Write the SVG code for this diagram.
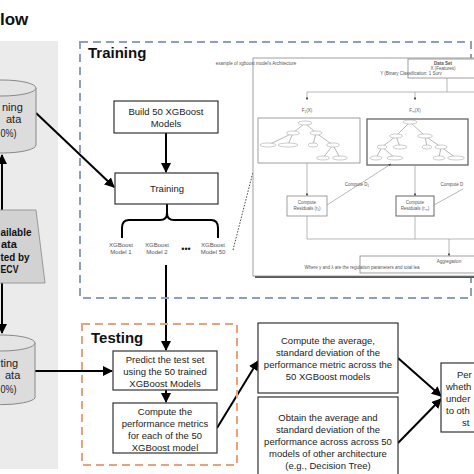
<svg xmlns="http://www.w3.org/2000/svg" width="474" height="474" viewBox="0 0 474 474">
<style>
.t{font-family:"Liberation Sans",Arial,sans-serif;fill:#222}
.b{font-size:9.5px;text-anchor:middle}
.h{font-weight:bold;font-size:15px;fill:#111}
.c{font-size:11px}
.cb{font-size:11px;font-weight:bold;fill:#111}
.box{fill:#fff;stroke:#333;stroke-width:1.2}
.ln{stroke:#000;stroke-width:2;fill:none}
.tiny{font-family:"Liberation Sans",Arial,sans-serif;font-size:4.5px;fill:#555;text-anchor:middle}
.ib{fill:#fff;stroke:#888;stroke-width:0.8}
.il{stroke:#999;stroke-width:0.7;fill:none}
.el{fill:#fff;stroke:#999;stroke-width:0.5}
.m{font-size:6px;text-anchor:middle;fill:#555}
</style>
<defs>
<marker id="ah" viewBox="0 0 10 10" refX="9" refY="5" markerWidth="5" markerHeight="5" orient="auto-start-reverse"><path d="M0,0L10,5L0,10z" fill="#000"/></marker>
<marker id="as" viewBox="0 0 10 10" refX="9" refY="5" markerWidth="4" markerHeight="4" orient="auto"><path d="M0,0L10,5L0,10z" fill="#555"/></marker>
</defs>
<rect width="474" height="474" fill="#fff"/>
<text class="t" x="0" y="25" style="font-weight:bold;font-size:17px;fill:#111">low</text>
<rect x="-5" y="41" width="63" height="428" fill="#ebebeb"/>

<g id="connectors">
<line class="ln" x1="2" y1="210" x2="2" y2="155" marker-end="url(#ah)"/>
<line class="ln" x1="2" y1="283" x2="2" y2="333" marker-end="url(#ah)"/>
<line class="ln" x1="36" y1="113" x2="114" y2="187" marker-end="url(#ah)"/>
<line class="ln" x1="166" y1="133" x2="166" y2="172" marker-end="url(#ah)"/>
<path class="ln" d="M167,204 V213 Q167,220 160,220 H129 Q122,220 122,228 V238 M167,213 Q167,220 174,220 H211 Q218,220 218,228 V238" stroke-width="2.5"/>
<line x1="233" y1="250" x2="253" y2="172" stroke="#444" stroke-width="1" stroke-dasharray="1.5,1.5"/>
<line class="ln" x1="166" y1="265" x2="166" y2="350" marker-end="url(#ah)"/>
<line class="ln" x1="35" y1="371" x2="112" y2="371" marker-end="url(#ah)"/>
<line class="ln" x1="166" y1="390" x2="166" y2="402" marker-end="url(#ah)"/>
<line class="ln" x1="217" y1="428" x2="258" y2="361" marker-end="url(#ah)"/>
<line class="ln" x1="398" y1="358" x2="441" y2="396" marker-end="url(#ah)"/>
<line class="ln" x1="398" y1="443" x2="441" y2="399" marker-end="url(#ah)"/>
</g>

<g id="training-data">
<path d="M-32,88 V145 A34,8 0 0 0 36,145 V88" fill="#dcdcdc" stroke="#888" stroke-width="1"/>
<ellipse cx="2" cy="88" rx="34" ry="8" fill="#e4e4e4" stroke="#888" stroke-width="1"/>
<text class="t c" x="2" y="111">ning</text>
<text class="t c" x="6" y="123">ata</text>
<text class="t c" x="0.5" y="137" textLength="16" lengthAdjust="spacingAndGlyphs">0%)</text>
</g>

<g id="available-data">
<polygon points="-5,210 36,210 45,283 -5,283" fill="#d2d2d2" stroke="#999" stroke-width="1"/>
<text class="t cb" x="0.5" y="236" textLength="31" lengthAdjust="spacingAndGlyphs">ailable</text>
<text class="t cb" x="1" y="248">ata</text>
<text class="t cb" x="0.5" y="261" textLength="29" lengthAdjust="spacingAndGlyphs">ted by</text>
<text class="t cb" x="0.5" y="273" textLength="18" lengthAdjust="spacingAndGlyphs">ECV</text>
</g>

<g id="testing-data">
<path d="M-32,343 V398 A34,8 0 0 0 35,398 V343" fill="#dcdcdc" stroke="#888" stroke-width="1"/>
<ellipse cx="1.5" cy="343" rx="33.5" ry="8" fill="#e4e4e4" stroke="#888" stroke-width="1"/>
<text class="t c" x="0.5" y="367">ting</text>
<text class="t c" x="5" y="379">ata</text>
<text class="t c" x="0.5" y="393" textLength="16" lengthAdjust="spacingAndGlyphs">0%)</text>
</g>

<g id="training-group">
<rect x="80" y="42" width="391" height="256" fill="none" stroke="#8e9cc6" stroke-width="2" stroke-dasharray="8,5"/>
<text class="t h" x="88" y="58">Training</text>
</g>

<g id="build-models">
<rect class="box" x="114" y="101" width="104" height="32"/>
<text class="t b" x="166" y="115">Build 50 XGBoost</text>
<text class="t b" x="166" y="127">Models</text>
</g>

<g id="training">
<rect class="box" x="115" y="173" width="103" height="31"/>
<text class="t b" x="167" y="192" font-size="10.5">Training</text>
</g>

<g id="models">
<text class="t m" x="121" y="247">XGBoost</text>
<text class="t m" x="121" y="254">Model 1</text>
<text class="t m" x="157" y="247">XGBoost</text>
<text class="t m" x="157" y="254">Model 2</text>
<text class="t" x="186" y="252" font-size="9" text-anchor="middle" fill="#444">•••</text>
<text class="t m" x="213" y="247">XGBoost</text>
<text class="t m" x="213" y="254">Model 50</text>
</g>

<g id="architecture">
<rect x="255" y="60" width="222" height="218" fill="#555"/>
<rect x="253" y="58" width="224" height="218" fill="#fff" stroke="#888" stroke-width="0.8"/>
<text class="tiny" x="256" y="65" text-anchor="start">example of xgboost model's Architecture</text>
<rect class="ib" x="408" y="59" width="70" height="19"/>
<text class="tiny" x="443" y="65" font-weight="bold" fill="#333">Data Set</text>
<text class="tiny" x="443" y="70">X (Features)</text>
<text class="tiny" x="411" y="75" text-anchor="start">Y (Binary Classification: 1 Surv</text>
<path class="il" d="M447,78 V92 M307,92 H478"/>
<line class="il" x1="307" y1="92" x2="307" y2="100" marker-end="url(#as)"/>
<line class="il" x1="415" y1="92" x2="415" y2="100" marker-end="url(#as)"/>
<text class="tiny" x="307" y="112">F₁(X)</text>
<text class="tiny" x="415" y="112">Fₘ(X)</text>
<rect class="ib" x="258" y="118" width="102" height="45"/>
<rect x="367" y="119" width="101" height="46" fill="#fff" stroke="#666" stroke-width="1.3"/>
<g class="il" stroke-width="0.4">
<path d="M305,123 L293,133 M305,123 L316,133 M293,133 L268,145 M293,133 L288,145 M316,133 L313,145 M316,133 L333,145 M333,145 L323,158 M333,145 L340,158"/>
<path d="M410,122 L396,136 M410,122 L425,136 M396,136 L382,147 M396,136 L400,147 M425,136 L427,147 M425,136 L441,147 M382,147 L376,158 M382,147 L395,158 M441,147 L439,158 M441,147 L456,158"/>
</g>
<g>
<ellipse class="el" cx="305" cy="123" rx="7" ry="2"/>
<ellipse class="el" cx="293" cy="133" rx="6.5" ry="2"/>
<ellipse class="el" cx="316" cy="133" rx="6" ry="2"/>
<ellipse class="el" cx="268" cy="145" rx="8" ry="2"/>
<ellipse class="el" cx="288" cy="145" rx="10" ry="2"/>
<ellipse class="el" cx="313" cy="145" rx="5" ry="2"/>
<ellipse class="el" cx="333" cy="145" rx="6.5" ry="2"/>
<ellipse class="el" cx="323" cy="158" rx="6.5" ry="2"/>
<ellipse class="el" cx="340" cy="158" rx="7.5" ry="2"/>
<ellipse class="el" cx="410" cy="122" rx="7" ry="2"/>
<ellipse class="el" cx="396" cy="136" rx="6.5" ry="2"/>
<ellipse class="el" cx="425" cy="136" rx="7.5" ry="2"/>
<ellipse class="el" cx="382" cy="147" rx="5" ry="2"/>
<ellipse class="el" cx="400" cy="147" rx="7" ry="2"/>
<ellipse class="el" cx="427" cy="147" rx="5" ry="2"/>
<ellipse class="el" cx="441" cy="147" rx="6" ry="2"/>
<ellipse class="el" cx="376" cy="158" rx="6" ry="2"/>
<ellipse class="el" cx="395" cy="158" rx="8" ry="2"/>
<ellipse class="el" cx="439" cy="158" rx="6" ry="2"/>
<ellipse class="el" cx="456" cy="158" rx="8.5" ry="2"/>
</g>
<line class="il" x1="307" y1="163" x2="307" y2="196" marker-end="url(#as)"/>
<line class="il" x1="415" y1="165" x2="415" y2="196" marker-end="url(#as)"/>
<rect class="ib" x="287" y="196" width="40" height="20"/>
<text class="tiny" x="307" y="204">Compute</text>
<text class="tiny" x="307" y="210">Residuals (r₁)</text>
<rect x="396" y="196" width="38" height="20" fill="#fff" stroke="#666" stroke-width="1"/>
<text class="tiny" x="415" y="204">Compute</text>
<text class="tiny" x="415" y="210">Residuals (rₘ)</text>
<line class="il" x1="327" y1="205" x2="391" y2="164" marker-end="url(#as)"/>
<text class="tiny" x="357" y="186" fill="#666">Compute D₁</text>
<line class="il" x1="434" y1="205" x2="463" y2="189"/>
<text class="tiny" x="452" y="186" text-anchor="start" fill="#666">Compute D</text>
<path class="il" d="M307,216 V239 M415,216 V239 M307,239 H478"/>
<line class="il" x1="449" y1="239" x2="449" y2="256" marker-end="url(#as)"/>
<rect class="ib" x="360" y="256" width="118" height="17"/>
<text class="tiny" x="449" y="263" fill="#333">Aggregation</text>
<text class="tiny" x="362" y="269" text-anchor="start">Where γ and λ are the regulation parameters and total lea</text>
</g>

<g id="testing-group">
<rect x="82" y="324" width="155" height="141" fill="none" stroke="#e8a27c" stroke-width="2" stroke-dasharray="8,5"/>
<text class="t h" x="91" y="343">Testing</text>
</g>

<g id="predict">
<rect class="box" x="113" y="351" width="104" height="39"/>
<text class="t b" x="165" y="363">Predict the test set</text>
<text class="t b" x="165" y="375">using the 50 trained</text>
<text class="t b" x="165" y="387">XGBoost Models</text>
</g>

<g id="compute-metrics">
<rect class="box" x="113" y="403" width="104" height="50"/>
<text class="t b" x="165" y="415">Compute the</text>
<text class="t b" x="165" y="427">performance metrics</text>
<text class="t b" x="165" y="439">for each of the 50</text>
<text class="t b" x="165" y="451">XGBoost model</text>
</g>

<g id="compute-average">
<rect class="box" x="258" y="323" width="140" height="70"/>
<text class="t b" x="328" y="344">Compute the average,</text>
<text class="t b" x="328" y="356">standard deviation of the</text>
<text class="t b" x="328" y="368">performance metric across the</text>
<text class="t b" x="328" y="380">50 XGBoost models</text>
</g>

<g id="other-architecture">
<rect class="box" x="258" y="397" width="140" height="80"/>
<text class="t b" x="328" y="421">Obtain the average and</text>
<text class="t b" x="328" y="433">standard deviation of the</text>
<text class="t b" x="328" y="445">performance across across 50</text>
<text class="t b" x="328" y="457">models of other architecture</text>
<text class="t b" x="328" y="469">(e.g., Decision Tree)</text>
</g>

<g id="perform-test">
<rect class="box" x="441" y="363" width="40" height="69"/>
<text class="t" x="457" y="378" font-size="9.5">Per</text>
<text class="t" x="446" y="390" font-size="9.5">wheth</text>
<text class="t" x="446" y="402" font-size="9.5">under</text>
<text class="t" x="446" y="414" font-size="9.5">to oth</text>
<text class="t" x="462" y="426" font-size="9.5">st</text>
</g>
</svg>
